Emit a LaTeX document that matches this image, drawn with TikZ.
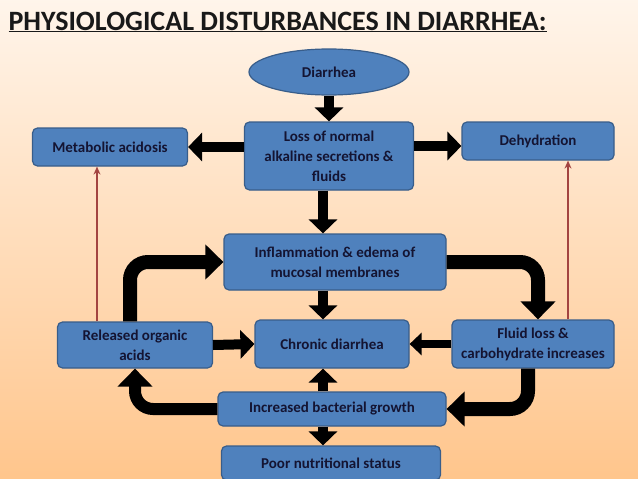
\documentclass[tikz,border=0pt]{standalone}
\usepackage{fontspec}
\setmainfont{Carlito}
\usetikzlibrary{arrows.meta,shapes.geometric}
\definecolor{boxf}{HTML}{4F81BD}
\definecolor{boxd}{HTML}{385D8A}
\definecolor{txt}{HTML}{141432}
\definecolor{redl}{HTML}{C0504D}
\begin{document}
\begin{tikzpicture}[x=1pt,y=-1pt,
 box/.style={draw=boxd,line width=1.2pt,fill=boxf,rounded corners=5pt,text=txt,font=\bfseries\fontsize{15}{20}\selectfont,align=center,inner sep=2pt},
 big/.style={line width=10pt,draw=black,-{Triangle[length=14pt,width=28pt]}},
 big2/.style={line width=14pt,draw=black,rounded corners=18pt,-{Triangle[length=18pt,width=34pt]}},
 thin/.style={draw=redl!85!black,line width=1.6pt,-{Stealth[length=8pt,width=7pt]}}]
\useasboundingbox (0,0) rectangle (638,479);
\shade[top color=orange!8!white,bottom color=orange!45!white] (0,0) rectangle (638,479);
\node[anchor=west,font=\bfseries\fontsize{28}{30}\selectfont,text=black!90] (t) at (5,22) {\underline{PHYSIOLOGICAL DISTURBANCES IN DIARRHEA:}};
\node[ellipse,draw=boxd,line width=1.2pt,fill=boxf,text=txt,font=\bfseries\fontsize{15}{20}\selectfont,minimum width=160pt,minimum height=46pt] (d) at (329,72) {Diarrhea};
\node[box,minimum width=169pt,minimum height=68pt] (l) at (329,156) {Loss of normal\\alkaline secretions \&\\fluids};
\node[box,minimum width=155pt,minimum height=38pt] (m) at (110,147) {Metabolic acidosis};
\node[box,minimum width=152pt,minimum height=38pt] (h) at (538,141) {Dehydration};
\node[box,minimum width=222pt,minimum height=56pt] (i) at (335,262) {Inflammation \& edema of\\mucosal membranes};
\node[box,minimum width=155pt,minimum height=46pt] (r) at (135,345) {Released organic\\acids};
\node[box,minimum width=154pt,minimum height=48pt] (c) at (332,344) {Chronic diarrhea};
\node[box,minimum width=162pt,minimum height=48pt] (f) at (533,344) {Fluid loss \&\\carbohydrate increases};
\node[box,minimum width=228pt,minimum height=34pt] (b) at (332,409) {Increased bacterial growth};
\node[box,minimum width=219pt,minimum height=34pt] (p) at (331,463) {Poor nutritional status};
\draw[big] (d.south) -- (l.north);
\draw[big] (l.west|-m.east) -- (m.east);
\draw[big] (l.east|-0,146) -- (h.west|-0,146);
\draw[big] (l.south-|323,0) -- (i.north-|323,0);
\draw[big] (i.south-|323,0) -- (c.north-|323,0);
\draw[big] (r.east) -- (c.west);
\draw[big,line width=8pt,-{Triangle[length=12pt,width=22pt]}] (f.west) -- (c.east);
\draw[big] (b.north-|323,0) -- (c.south-|323,0);
\draw[big] (b.south-|323,0) -- (p.north-|323,0);
\draw[big2] (r.north-|130,0) -- (130,262) -- (i.west);
\draw[big2] (i.east) -- (538,262) -- (f.north-|538,0);
\draw[big2] (f.south-|528,0) -- (528,409) -- (b.east);
\draw[big2,line width=12pt] (b.west) -- (135,409) -- (r.south-|135,0);
\draw[thin] (r.north-|97,0) -- (m.south-|97,0);
\draw[thin] (f.north-|568,0) -- (h.south-|568,0);
\end{tikzpicture}
\end{document}
